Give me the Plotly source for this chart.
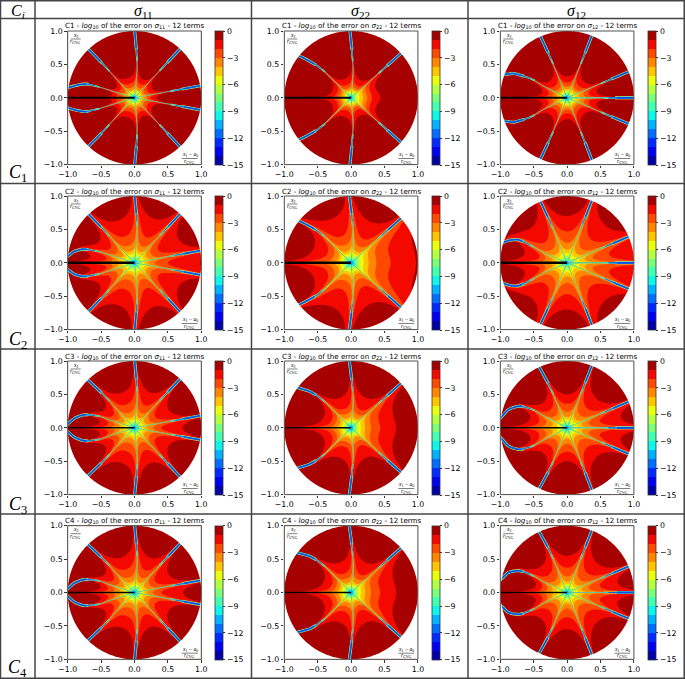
import numpy as np
import plotly.graph_objects as go

# Nodal-line points (top half, mirrored below), and for each
# lobe the radii where its centre line crosses LOBE_LEVELS. The fine contour surface
# is DERIVED from these readings (log-radius profile + angular shaping), not read cell by cell.
LOBE_LEVELS = [-1, -2, -3, -4, -6]
COLUMN_LABELS = ["11", "22", "12"]
ROW_LABELS = ["1", "2", "3", "4"]
COLORBAR_TICKS = [0, -3, -6, -9, -12, -15]
AXIS_TICKS = [-1.0, -0.5, 0.0, 0.5, 1.0]

N_C1_S11 = [[(0.98, 0.18)], [(0.68, 0.73)], [(0.03, 0.25), (0.04, 0.5), (0.02, 0.8), (0.0, 1.0)],
            [(-0.2, 0.2), (-0.4, 0.43), (-0.68, 0.72)],
            [(-0.25, 0.07), (-0.45, 0.14), (-0.7, 0.21), (-0.88, 0.19), (-0.99, 0.14)]]
N_C2_S11 = [[(0.98, 0.18)], [(0.68, 0.73)], [(0.03, 0.25), (0.04, 0.5), (0.02, 0.8), (0.0, 1.0)],
            [(-0.2, 0.2), (-0.4, 0.43), (-0.68, 0.72)],
            [(-0.3, 0.09), (-0.5, 0.16), (-0.75, 0.21), (-0.92, 0.17), (-1.0, 0.08)]]
N_C3_S11 = [[(0.98, 0.18)], [(0.68, 0.73)], [(0.03, 0.25), (0.04, 0.5), (0.02, 0.8), (0.0, 1.0)],
            [(-0.2, 0.2), (-0.4, 0.43), (-0.7, 0.72)],
            [(-0.3, 0.09), (-0.5, 0.17), (-0.75, 0.2), (-0.93, 0.13), (-1.0, 0.03)]]
N_C4_S11 = [[(0.98, 0.18)], [(0.68, 0.73)], [(0.03, 0.25), (0.04, 0.5), (0.02, 0.8), (0.0, 1.0)],
            [(-0.2, 0.2), (-0.4, 0.43), (-0.7, 0.72)],
            [(-0.3, 0.09), (-0.5, 0.17), (-0.75, 0.2), (-0.93, 0.13), (-1.0, 0.03)]]
N_C1_S22 = [[(0.74, 0.66)], [(0.03, 0.3), (0.02, 0.6), (-0.02, 1.0)],
            [(-0.2, 0.2), (-0.4, 0.4), (-0.6, 0.54), (-0.78, 0.62)]]
N_C2_S22 = [[(0.74, 0.66)], [(0.03, 0.3), (0.02, 0.6), (-0.03, 1.0)],
            [(-0.2, 0.2), (-0.4, 0.4), (-0.6, 0.54), (-0.78, 0.62)]]
N_C3_S22 = [[(0.74, 0.66)], [(0.03, 0.3), (0.02, 0.6), (-0.03, 1.0)],
            [(-0.2, 0.2), (-0.4, 0.4), (-0.6, 0.54), (-0.8, 0.59)]]
N_C4_S22 = [[(0.74, 0.66)], [(0.03, 0.3), (0.02, 0.6), (-0.03, 1.0)],
            [(-0.2, 0.2), (-0.4, 0.4), (-0.6, 0.54), (-0.8, 0.58)]]
N_C1_S12 = [[(1.0, 0.0)], [(0.92, 0.39)], [(0.13, 0.32), (0.25, 0.62), (0.37, 0.93)],
            [(-0.1, 0.25), (-0.25, 0.6), (-0.4, 0.92)],
            [(-0.3, 0.14), (-0.5, 0.27), (-0.8, 0.37), (-0.94, 0.34)]]
N_C2_S12 = [[(1.0, 0.0)], [(0.92, 0.39)], [(0.13, 0.32), (0.25, 0.62), (0.37, 0.93)],
            [(-0.1, 0.25), (-0.25, 0.6), (-0.4, 0.92)],
            [(-0.3, 0.12), (-0.5, 0.24), (-0.72, 0.35), (-0.92, 0.33), (-0.96, 0.28)]]
N_C3_S12 = [[(1.0, 0.0)], [(0.92, 0.39)], [(0.13, 0.32), (0.25, 0.62), (0.37, 0.93)],
            [(-0.1, 0.25), (-0.25, 0.6), (-0.42, 0.91)],
            [(-0.3, 0.15), (-0.5, 0.27), (-0.7, 0.33), (-0.9, 0.27), (-0.99, 0.12)]]
N_C4_S12 = [[(1.0, 0.0)], [(0.92, 0.39)], [(0.13, 0.32), (0.25, 0.62), (0.37, 0.93)],
            [(-0.1, 0.25), (-0.25, 0.6), (-0.42, 0.91)],
            [(-0.3, 0.13), (-0.5, 0.25), (-0.7, 0.33), (-0.9, 0.3), (-0.98, 0.18)]]

L_C1_S11 = [[.33, .24, .18, .13, .07], [.3, .22, .16, .12, .07], [.3, .22, .16, .12, .07],
            [.31, .22, .16, .12, .07], [.31, .24, .17, .13, .07], [.34, .26, .18, .13, .07]]
L_C2_S11 = [[.98, .5, .3, .2, .1], [.75, .4, .28, .2, .1], [.72, .42, .27, .18, .1],
            [.68, .42, .27, .18, .1], [.62, .42, .3, .2, .1], [.67, .42, .33, .25, .12]]
L_C3_S11 = [[.72, .4, .28, .18, .09], [.58, .35, .25, .17, .09], [.58, .37, .24, .16, .09],
            [.56, .37, .24, .16, .09], [.52, .37, .27, .18, .09], [.52, .4, .3, .22, .1]]
L_C4_S11 = [[.73, .4, .28, .18, .09], [.58, .35, .25, .17, .09], [.57, .37, .24, .16, .09],
            [.56, .37, .24, .16, .09], [.52, .37, .27, .18, .09], [.51, .4, .3, .22, .1]]
L_C1_S22 = [[.35, .28, .22, .17, .08], [.3, .2, .15, .12, .07], [.3, .2, .15, .12, .07], [.3, .22, .17, .13, .07]]
L_C2_S22 = [[.88, .5, .35, .25, .13], [.68, .4, .27, .18, .1], [.72, .42, .28, .18, .1], [.6, .38, .28, .2, .12]]
L_C3_S22 = [[.6, .38, .28, .2, .1], [.5, .3, .22, .15, .09], [.48, .3, .22, .15, .09], [.44, .31, .24, .18, .1]]
L_C4_S22 = [[.6, .38, .28, .2, .1], [.5, .3, .22, .15, .09], [.48, .3, .22, .15, .09], [.44, .31, .24, .18, .1]]
L_C1_S12 = [[.45, .33, .25, .18, .08], [.35, .25, .18, .14, .08], [.32, .23, .17, .13, .08],
            [.36, .25, .18, .13, .08], [.38, .28, .21, .15, .08]]
L_C2_S12 = [[1.05, .64, .39, .27, .12], [.8, .5, .3, .2, .09], [.7, .47, .3, .2, .1],
            [.75, .45, .3, .2, .1], [.65, .42, .33, .22, .12]]
L_C3_S12 = [[.82, .5, .33, .22, .1], [.62, .42, .27, .18, .09], [.5, .36, .24, .16, .09],
            [.52, .37, .25, .17, .09], [.57, .43, .32, .22, .1]]
L_C4_S12 = [[.77, .5, .33, .22, .1], [.63, .42, .27, .18, .09], [.55, .37, .24, .16, .09],
            [.55, .38, .25, .17, .09], [.48, .38, .3, .22, .1]]

# dip of the right-hand lobe on the x1 axis (sigma_22 panels only)
DIP_S22 = [0.8, 0.3, 0.35, 0.35]

NODES = [[N_C1_S11, N_C1_S22, N_C1_S12], [N_C2_S11, N_C2_S22, N_C2_S12],
         [N_C3_S11, N_C3_S22, N_C3_S12], [N_C4_S11, N_C4_S22, N_C4_S12]]
LOBES = [[L_C1_S11, L_C1_S22, L_C1_S12], [L_C2_S11, L_C2_S22, L_C2_S12],
         [L_C3_S11, L_C3_S22, L_C3_S12], [L_C4_S11, L_C4_S22, L_C4_S12]]

W, H = 685, 679
COL_X = [67.7, 284.3, 500.3]
ROW_Y = [31.0, 196.0, 361.0, 525.7]
BOX = 133.6
CB_X = [215.0, 431.7, 647.7]
CB_W = 7.7
FONT = "DejaVu Sans"
SERIF = "Liberation Serif"
INK = "#333333"
EXT_SLOPE = 7.0


def X(p):
    return p / W


def Y(p):
    return 1 - p / H


def jet(t):
    r = np.interp(t, [0, .35, .66, .89, 1], [0, 0, 1, 1, .5])
    g = np.interp(t, [0, .125, .375, .64, .91, 1], [0, 0, 1, 1, 0, 0])
    b = np.interp(t, [0, .11, .34, .65, 1], [.5, 1, 1, 0, 0])
    return "rgb(%d,%d,%d)" % (r * 255, g * 255, b * 255)


BANDS = [jet((k + .5) / 15) for k in range(15)]
COLORSCALE = []
for k, c in enumerate(BANDS):
    lo = 0 if k == 0 else (k + .5) / 16
    hi = 1 if k == 14 else (k + 1.5) / 16
    COLORSCALE += [[lo, c], [hi, c]]

R_DENSE = np.linspace(0, 1.5, 751)


def curve_theta(points, r):
    """Nodal angle (deg) of a read curve at radius r, lightly rounded between read points."""
    rr = np.array([np.hypot(*p) for p in points])
    th = np.degrees(np.array([np.arctan2(p[1], p[0]) for p in points]))
    dense = np.interp(R_DENSE, rr, th)
    win = 41
    pad = np.pad(dense, win // 2, mode="edge")
    dense = np.convolve(pad, np.ones(win) / win, mode="valid")
    return np.interp(r, R_DENSE, dense)


def profile(radii, r):
    """Lobe-centre level vs radius from the read crossing radii (log-radius piecewise)."""
    lr = np.log10(np.maximum(r, 1e-3))
    xs = np.log10(np.array(radii[::-1]))
    ys = np.array(LOBE_LEVELS[::-1], float)
    z = np.interp(lr, xs, ys)
    hi = lr > xs[-1]
    z[hi] = ys[-1] + EXT_SLOPE * (lr[hi] - xs[-1])
    lo = lr < xs[0]
    slope = (ys[1] - ys[0]) / (xs[1] - xs[0])
    z[lo] = ys[0] + slope * (lr[lo] - xs[0])
    return z


def field(nodes, lobes, dip, n=201):
    gx = np.linspace(-1.02, 1.02, n)
    gy = gx.copy()
    xx, yy = np.meshgrid(gx, gy)
    r = np.hypot(xx, yy)
    a = np.degrees(np.arctan2(np.abs(yy), xx))
    bounds = [curve_theta(c, r) for c in nodes]
    has_zero = abs(nodes[0][0][1]) < 1e-9
    z = np.full(r.shape, -10.5)
    if has_zero:
        edges = [np.zeros_like(r)] + bounds[1:] + [np.full(r.shape, 180.0)]
    else:
        edges = [-bounds[0]] + bounds + [np.full(r.shape, 180.0)]
    gain = 0.9 + 0.6 * np.clip(r / 0.5, 0, 1)
    for s, radii in enumerate(lobes):
        lo, hi = edges[s], edges[s + 1]
        m = (a >= np.maximum(lo, 0)) & (a <= hi)
        t = (a[m] - lo[m]) / np.maximum(hi[m] - lo[m], 1e-6)
        term = gain[m] * np.log10(np.maximum(np.sin(np.pi * t), 1e-5))
        z[m] = profile(radii, r[m]) + term
    if dip:
        z -= dip * np.exp(-(a / 18.0) ** 2) * np.clip(r / 0.5, 0, 1)
    return gx, gy, np.round(np.clip(z, -10.5, -0.001), 3)


def segments(nodes, rmin, mirror=True):
    xs, ys = [], []
    for c in nodes:
        rs = np.linspace(rmin, 1.03, 70)
        th = np.radians(curve_theta(c, rs))
        xs += list(rs * np.cos(th)) + [None]
        ys += list(rs * np.sin(th)) + [None]
        if mirror:
            xs += list(rs * np.cos(th)) + [None]
            ys += list(-rs * np.sin(th)) + [None]
    return xs, ys


fig = go.Figure()
layout_axes = {}
shapes = []
annots = []
circle = np.linspace(0, 2 * np.pi, 240)
mask = "M-1.1,-1.1L1.1,-1.1L1.1,1.1L-1.1,1.1Z M" + "L".join(
    "%.4f,%.4f" % (np.cos(c), np.sin(c)) for c in circle) + "Z"

LINE_STACK = [(0.03, 0.9, "#5cc2a6"), (0.55, 1.7, "#b8dc60"), (0.55, 1.1, "#30c8d8"),
              (0.72, 3.0, "#d0dc50"), (0.72, 2.2, "#28c8e8"), (0.62, 0.8, "#1060e0"),
              (0.75, 1.4, "#0a50e0")]
CRACK_W = [2.0, 2.6, 1.6, 1.6]


def fraction(cx, ytop, num):
    annots.append(dict(x=X(cx), y=Y(ytop - 0.5), xref="paper", yref="paper", text=num, showarrow=False,
                       font=dict(family=SERIF, size=5.6, color="black"), xanchor="center", yanchor="middle"))
    annots.append(dict(x=X(cx), y=Y(ytop + 6.0), xref="paper", yref="paper",
                       text="<i>r</i><sub>CVG</sub>", showarrow=False,
                       font=dict(family=SERIF, size=5.6, color="black"), xanchor="center", yanchor="middle"))


idx = 0
for row in range(4):
    for col in range(3):
        idx += 1
        sfx = "" if idx == 1 else str(idx)
        xa, ya = "x" + sfx, "y" + sfx
        px, py = COL_X[col], ROW_Y[row]
        nodes, lobes = NODES[row][col], LOBES[row][col]
        dip = DIP_S22[row] if col == 1 else 0
        gx, gy, z = field(nodes, lobes, dip)
        fig.add_trace(go.Contour(
            x=gx, y=gy, z=z, xaxis=xa, yaxis=ya, zmin=-15, zmax=0, autocontour=False,
            contours=dict(start=-15, end=0, size=1, coloring="fill", showlines=False),
            line=dict(width=0), colorscale=COLORSCALE, hoverinfo="skip",
            colorbar=dict(x=X(CB_X[col]), xanchor="left", y=Y(py), yanchor="top", len=BOX / H,
                          lenmode="fraction", thickness=CB_W, thicknessmode="pixels", xpad=0, ypad=0,
                          outlinewidth=0.8, outlinecolor=INK, tickmode="array", tickvals=COLORBAR_TICKS,
                          ticktext=[str(v).replace("-", "\u2212") for v in COLORBAR_TICKS],
                          ticks="outside", ticklen=2.5, tickwidth=0.7, tickcolor=INK,
                          tickfont=dict(family=FONT, size=7.8, color="black"))))
        for rmin, w, color in LINE_STACK:
            lx, ly = segments(nodes, rmin)
            fig.add_trace(go.Scatter(x=lx, y=ly, xaxis=xa, yaxis=ya, mode="lines", hoverinfo="skip",
                                     line=dict(color=color, width=w), showlegend=False))
        fig.add_trace(go.Scatter(x=[-1, 0], y=[0, 0], xaxis=xa, yaxis=ya, mode="lines", hoverinfo="skip",
                                 line=dict(color="black", width=CRACK_W[row]), showlegend=False))
        ticktext = [("%.1f" % v).replace("-", "\u2212") for v in AXIS_TICKS]
        common = dict(range=[-1, 1], tickmode="array", tickvals=AXIS_TICKS, ticktext=ticktext, ticks="outside",
                      ticklen=2.5, tickwidth=0.7, tickcolor=INK, showgrid=False, zeroline=False, showline=False,
                      tickfont=dict(family=FONT, size=7.8, color="black"))
        layout_axes["xaxis" + sfx] = dict(common, domain=[X(px), X(px + BOX)], anchor=ya)
        layout_axes["yaxis" + sfx] = dict(common, domain=[Y(py + BOX), Y(py)], anchor=xa)
        shapes.append(dict(type="path", path=mask, xref=xa, yref=ya, fillcolor="white",
                           line=dict(width=0), layer="above"))
        shapes.append(dict(type="rect", xref="paper", yref="paper", x0=X(px), x1=X(px + BOX),
                           y0=Y(py + BOX), y1=Y(py), line=dict(color="#555555", width=1), layer="above"))
        sig = COLUMN_LABELS[col]
        annots.append(dict(x=X(px + BOX / 2), y=Y(py - 5), xref="paper", yref="paper", showarrow=False,
                           text="C%s - <i>log</i><sub>10</sub> of the error on <i>\u03c3</i><sub>%s</sub> - 12 terms"
                                % (ROW_LABELS[row], sig),
                           font=dict(family=FONT, size=7.1, color="black"), xanchor="center", yanchor="middle"))
        fraction(px + 8, py + 4.5, "<i>x</i><sub>2</sub>")
        shapes.append(dict(type="line", xref="paper", yref="paper", x0=X(px + 3), x1=X(px + 13),
                           y0=Y(py + 8), y1=Y(py + 8), line=dict(color="black", width=0.5)))
        fraction(px + 122, py + 124, "<i>x</i><sub>1</sub> \u2212 <i>a</i><sub>0</sub>")
        shapes.append(dict(type="line", xref="paper", yref="paper", x0=X(px + 114), x1=X(px + 130),
                           y0=Y(py + 127.5), y1=Y(py + 127.5), line=dict(color="black", width=0.5)))

for xl in [0.5, 35, 251.5, 468, 684.2]:
    shapes.append(dict(type="line", xref="paper", yref="paper", x0=X(xl), x1=X(xl), y0=Y(0), y1=Y(H),
                       line=dict(color="#444444", width=1.5)))
for yl in [0.8, 18.5, 183.5, 349, 514, 678.2]:
    shapes.append(dict(type="line", xref="paper", yref="paper", x0=0, x1=1, y0=Y(yl), y1=Y(yl),
                       line=dict(color="#444444", width=1.5)))

for cx, lab in zip([143, 360, 576], COLUMN_LABELS):
    annots.append(dict(x=X(cx), y=Y(11.5), xref="paper", yref="paper", showarrow=False,
                       text="<i>\u03c3</i><sub>%s</sub>" % lab,
                       font=dict(family=SERIF, size=16, color="black"), xanchor="center", yanchor="middle"))
annots.append(dict(x=X(17.5), y=Y(11), xref="paper", yref="paper", showarrow=False,
                   text="<i>C<sub>i</sub></i>", font=dict(family=SERIF, size=16, color="black"),
                   xanchor="center", yanchor="middle"))
for yc, lab in zip([174, 340, 505, 668], ROW_LABELS):
    annots.append(dict(x=X(17.5), y=Y(yc), xref="paper", yref="paper", showarrow=False,
                       text="<i>C</i><sub>%s</sub>" % lab, font=dict(family=SERIF, size=18, color="black"),
                       xanchor="center", yanchor="middle"))

fig.update_layout(width=W, height=H, autosize=False,
                  margin=dict(l=0, r=0, t=0, b=0, pad=0, autoexpand=False),
                  paper_bgcolor="white", plot_bgcolor="white", showlegend=False,
                  shapes=shapes, annotations=annots, **layout_axes)
fig.write_html("out.html", config=dict(displayModeBar=False),
               post_script="document.body.style.margin='0';document.body.style.overflow='hidden';")
